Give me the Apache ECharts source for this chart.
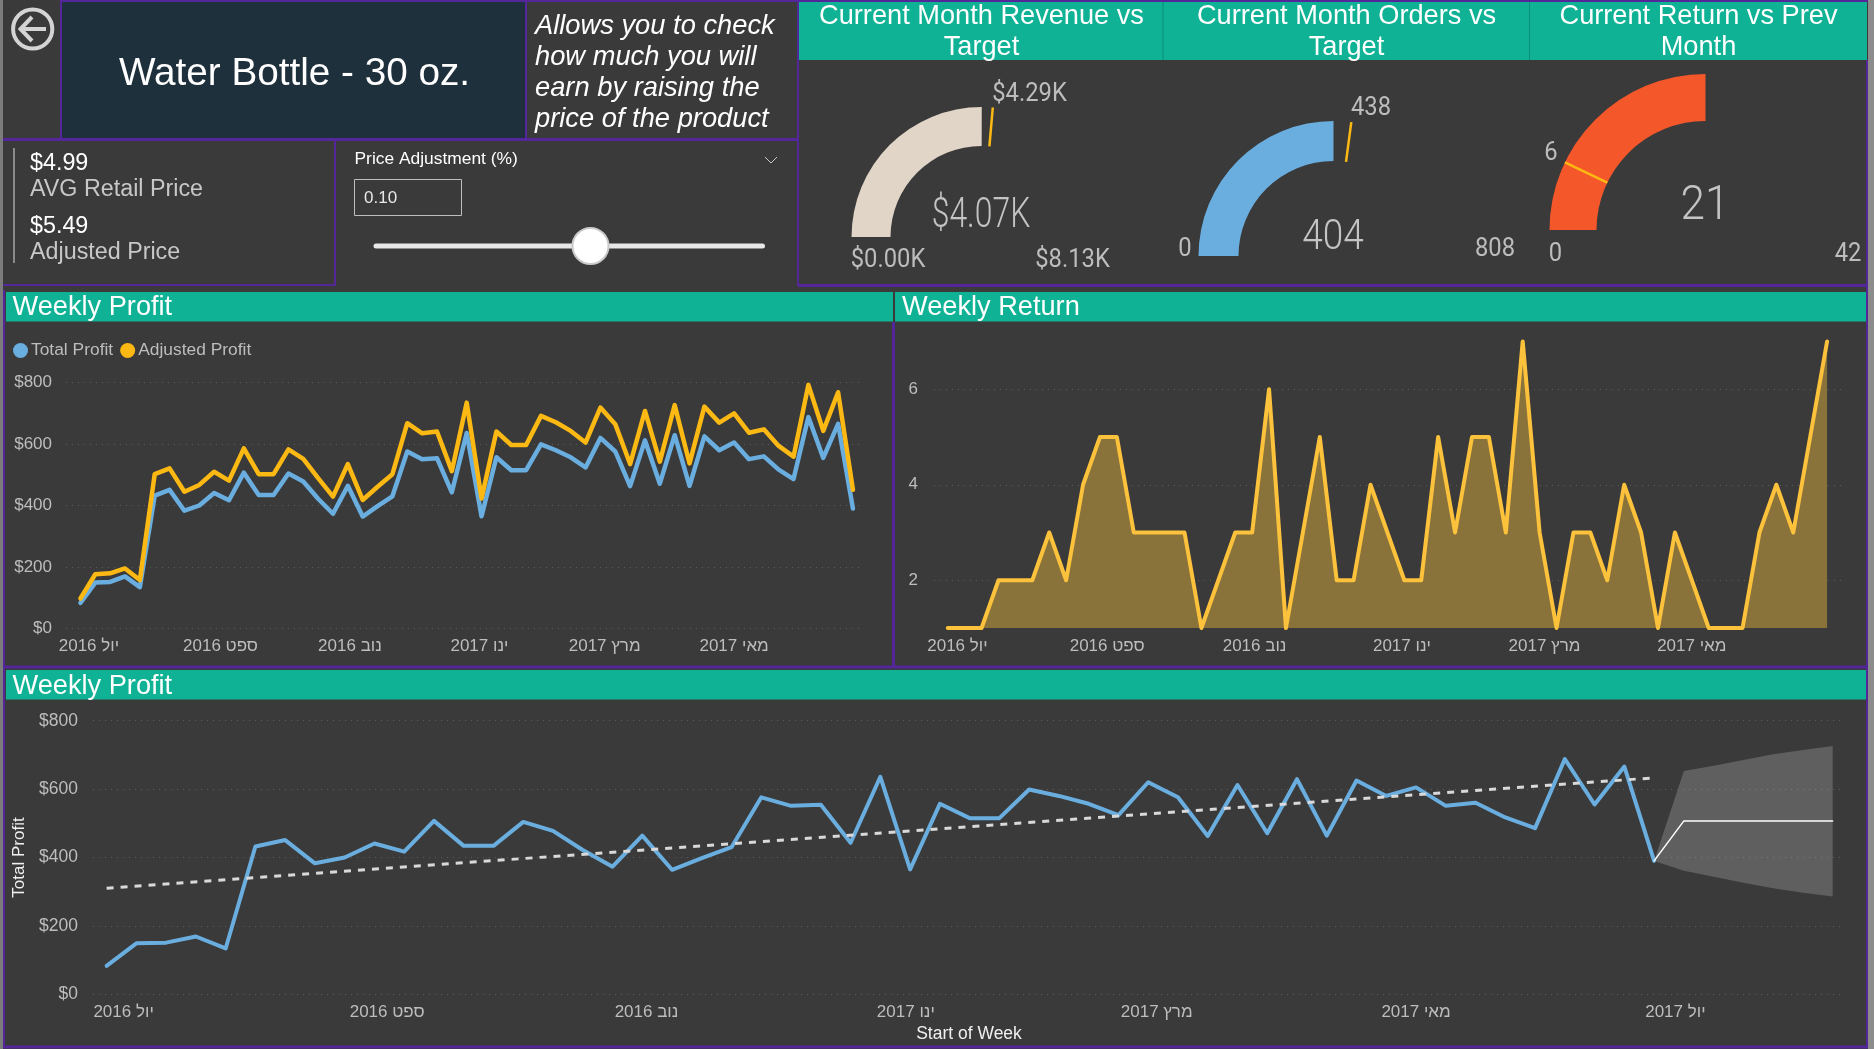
<!DOCTYPE html>
<html>
<head>
<meta charset="utf-8">
<title>Water Bottle - 30 oz.</title>
<style>html,body{margin:0;padding:0;background:#3a3a3a;overflow:hidden}#main{width:1874px;height:1049px}</style>
<script src="https://cdn.jsdelivr.net/npm/echarts@6/dist/echarts.min.js"></script>
</head>
<body>
<div id="main"></div>
<script>
// ---------- data ----------
const weekStarts = ['2016-06-27','2016-07-04','2016-07-11','2016-07-18','2016-07-25','2016-08-01','2016-08-08','2016-08-15','2016-08-22','2016-08-29','2016-09-05','2016-09-12','2016-09-19','2016-09-26','2016-10-03','2016-10-10','2016-10-17','2016-10-24','2016-10-31','2016-11-07','2016-11-14','2016-11-21','2016-11-28','2016-12-05','2016-12-12','2016-12-19','2016-12-26','2017-01-02','2017-01-09','2017-01-16','2017-01-23','2017-01-30','2017-02-06','2017-02-13','2017-02-20','2017-02-27','2017-03-06','2017-03-13','2017-03-20','2017-03-27','2017-04-03','2017-04-10','2017-04-17','2017-04-24','2017-05-01','2017-05-08','2017-05-15','2017-05-22','2017-05-29','2017-06-05','2017-06-12','2017-06-19','2017-06-26'];
const totalProfit = [83,149,151,169,134,432,451,383,400,441,417,507,434,434,504,478,422,373,464,364,398,430,576,551,554,443,636,365,557,515,515,599,580,557,524,620,576,463,612,471,629,464,625,580,605,551,560,517,486,688,555,666,390];
const adjustedProfit = [97,176,179,195,157,502,521,445,467,510,481,586,502,502,583,552,489,429,535,418,461,502,668,635,641,512,735,423,641,597,597,692,671,643,605,719,665,535,708,543,727,537,722,670,700,637,648,594,559,793,643,769,451];
const weeklyReturn = [1,1,1,2,2,2,3,2,4,5,5,3,3,3,3,1,2,3,3,6,1,3,5,2,2,4,3,2,2,5,3,5,5,3,7,3,1,3,3,2,4,3,1,3,2,1,1,1,3,4,3,5,7];
const trendDates = ['2016-06-27','2017-06-26'];
const trendValues = [310,633];
const forecastDates = ['2017-06-26','2017-07-03','2017-07-10','2017-07-17','2017-07-24','2017-07-31','2017-08-07'];
const forecastValues = [390,507,507,507,507,507,507];
const forecastUpper = [390,653,668,685,702,714,726];
const forecastLower = [390,361,344,326,310,297,286];
const tickDates = ['2016-07-01','2016-09-01','2016-11-01','2017-01-01','2017-03-01','2017-05-01'];
const tickLabels = ['יול 2016','ספט 2016','נוב 2016','ינו 2017','מרץ 2017','מאי 2017'];
const tickDatesLong = tickDates.concat(['2017-07-01']);
const tickLabelsLong = tickLabels.concat(['יול 2017']);
const returnTicks = [2,4,6];
const revenueGauge = {value:4.07,target:4.29,max:8.13};
const ordersGauge = {value:404,target:438,max:808};
const returnGauge = {value:21,target:6,max:42};

// ---------- helpers ----------
const SANS = '"Liberation Sans", Arial, sans-serif';
const DIN = 'Roboto, sans-serif';
const PURPLE = '#53269a', TEAL = '#0fb294', BG = '#3a3a3a', TICK = '#bdbdbd', GOLD = '#fdb913', BLUE = '#6aaee0';
const ts = s => { const p = s.split('-').map(Number); return new Date(p[0], p[1]-1, p[2]).getTime(); };
const labelMap = {};
tickDatesLong.forEach((d,i) => labelMap[ts(d)] = tickLabelsLong[i]);
const pairs = (xs, ys) => xs.map((x,i) => [ts(x), ys[i]]);
const DAY = 86400000;

function rect(x,y,w,h,fill,extra){ return Object.assign({type:'rect',silent:true,shape:{x,y,width:w,height:h},style:{fill}},extra||{}); }
function txt(text,x,y,o){ o=o||{}; return {type:'text',silent:true,x,y,scaleX:o.sx||1,z:o.z||20,style:{text,fill:o.fill||'#fff',font:(o.style||'')+' '+(o.weight||'')+' '+(o.size||16)+'px '+(o.family||SANS),align:o.align||'left',verticalAlign:'middle'}}; }
const small = {size:25,family:DIN,fill:TICK,align:'center',sx:.95};

const graphics = [
  // page chrome
  rect(0,0,3,1049,'#7c7c7c'), rect(1868,0,6,1049,'#8c8c8c'),
  rect(61,1,464,137,'#1f303d'),
  rect(799,2,1068,58,TEAL), rect(1162.5,2,1,58,'#0b8f78'), rect(1529,2,1,58,'#0b8f78'),
  rect(6,292,887,29.5,TEAL), rect(895,292,973,29.5,TEAL), rect(6,670,1861,29.5,TEAL),
  // purple borders
  rect(60,0,1808,2,PURPLE), rect(60,0,2,139,PURPLE), rect(525,0,2,139,PURPLE),
  rect(3,138,795,3,PURPLE), rect(334,140,2,146,PURPLE), rect(797,0,2,286,PURPLE),
  rect(3,284,332,2,PURPLE), rect(798,284,1070,3,PURPLE),
  rect(3,290,2,758,PURPLE), rect(892,322,3,345,PURPLE), rect(1866,60,2,986,PURPLE),
  rect(3,665.5,1865,3,PURPLE), rect(3,1045.5,1865,3,PURPLE),
  // back button
  {type:'circle',silent:true,shape:{cx:32.7,cy:29,r:19.6},style:{fill:'none',stroke:'#d4d4d4',lineWidth:4}},
  {type:'polyline',silent:true,shape:{points:[[46,29],[21,29]]},style:{fill:'none',stroke:'#d4d4d4',lineWidth:4}},
  {type:'polyline',silent:true,shape:{points:[[32,17],[20.5,29],[32,41]]},style:{fill:'none',stroke:'#d4d4d4',lineWidth:4}},
  // title and note
  txt('Water Bottle - 30 oz.',294.5,74,{size:38.7,align:'center'}),
  txt('Allows you to check',535,26,{size:27.3,style:'italic'}),
  txt('how much you will',535,57,{size:27.3,style:'italic'}),
  txt('earn by raising the',535,88,{size:27.3,style:'italic'}),
  txt('price of the product',535,119,{size:27.3,style:'italic'}),
  // KPI card
  rect(13,148,2,115,'#8a8a8a'),
  txt('$4.99',30,164,{size:23.3}),
  txt('AVG Retail Price',30,190,{size:23.3,fill:'#c8c8c8'}),
  txt('$5.49',30,227,{size:23.3}),
  txt('Adjusted Price',30,253,{size:23.3,fill:'#c8c8c8'}),
  // slicer
  txt('Price Adjustment (%)',354.5,159.5,{size:17.4}),
  {type:'polyline',silent:true,shape:{points:[[765,157],[771,163],[777,157]]},style:{fill:'none',stroke:'#c8c8c8',lineWidth:1}},
  {type:'rect',silent:true,shape:{x:354.5,y:179.5,width:107,height:36},style:{fill:'none',stroke:'#bdbdbd',lineWidth:1}},
  txt('0.10',364,198,{size:17,fill:'#e8e8e8'}),
  rect(373.5,243.5,391.5,5,'#e8e8e8',{shape:{x:373.5,y:243.5,width:391.5,height:5,r:2.5}}),
  {type:'circle',silent:true,z:5,shape:{cx:590.5,cy:246,r:18},style:{fill:'#ffffff',stroke:'#c9c9c9',lineWidth:2}},
  // card headings
  txt('Current Month Revenue vs',981.5,17,{size:27.2,align:'center'}),
  txt('Target',981.5,48,{size:27.2,align:'center'}),
  txt('Current Month Orders vs',1346.5,17,{size:27.2,align:'center'}),
  txt('Target',1346.5,48,{size:27.2,align:'center'}),
  txt('Current Return vs Prev',1698.5,17,{size:27.2,align:'center'}),
  txt('Month',1698.5,48,{size:27.2,align:'center'}),
  txt('Weekly Profit',12.5,308,{size:27.2}),
  txt('Weekly Return',902,308,{size:27.2}),
  txt('Weekly Profit',12.5,686.5,{size:27.2}),
  // gauge labels
  txt('$4.07K',981,216.5,{size:42,family:DIN,weight:'300',fill:'#c4c4c4',align:'center',sx:.76}),
  txt('$0.00K',888,261,small),
  txt('$8.13K',1072.5,261,small),
  txt('$4.29K',1029.5,94.5,small),
  txt('404',1333,238,{size:43,family:DIN,weight:'300',fill:'#c4c4c4',align:'center',sx:.86}),
  txt('0',1185,250,small),
  txt('808',1495,250,small),
  txt('438',1371,109,small),
  txt('21',1705,206.5,{size:49,family:DIN,weight:'300',fill:'#c4c4c4',align:'center',sx:.9}),
  txt('6',1551,154,small),
  txt('0',1555.5,255,small),
  txt('42',1848,255,small)
];

function gaugeSeries(d, cx, cy, R, r, color){
  const base = {type:'gauge',center:[cx,cy],radius:R,startAngle:180,endAngle:0,min:0,max:d.max,silent:true,
    axisTick:{show:false},splitLine:{show:false},axisLabel:{show:false},title:{show:false},detail:{show:false},anchor:{show:false}};
  return [
    Object.assign({},base,{z:3,data:[{value:d.value}],pointer:{show:false},
      axisLine:{show:false},progress:{show:true,width:R-r,roundCap:false,itemStyle:{color}}}),
    Object.assign({},base,{z:4,data:[{value:d.target}],axisLine:{show:false},progress:{show:false},
      pointer:{show:true,icon:'rect',length:R-r,width:2.5,offsetCenter:[0,-r],itemStyle:{color:GOLD}}})
  ];
}

function xAxisFor(gridIndex, minT, maxT, dates, extra){
  return Object.assign({type:'value',gridIndex,min:minT,max:maxT,scale:true,
    axisLine:{show:false},axisTick:{show:false},splitLine:{show:false},
    axisLabel:{customValues:dates.map(ts),formatter:v=>labelMap[v]||'',color:TICK,fontFamily:SANS,fontSize:17,margin:10,hideOverlap:false,showMinLabel:true,showMaxLabel:true}},extra||{});
}
function yAxisFor(gridIndex, extra){
  return Object.assign({type:'value',gridIndex,min:0,max:800,interval:200,
    axisLine:{show:false},axisTick:{show:false},
    splitLine:{show:true,lineStyle:{color:'#5c5c5c',type:[1,5],width:1}},
    axisLabel:{formatter:v=>'$'+v,color:TICK,fontFamily:SANS,fontSize:17,margin:14,padding:[3.5,0,0,0]}},extra||{});
}
function line(name,xi,yi,data,color,width,extra){
  return Object.assign({type:'line',name,xAxisIndex:xi,yAxisIndex:yi,data,showSymbol:false,symbol:'none',silent:true,clip:false,
    lineStyle:{color,width,join:'round',cap:'round'},itemStyle:{color}},extra||{});
}
// forecast confidence band: one polygon through the upper and, reversed, the lower bound
const bandRows = forecastDates.map((d,i) => [ts(d), forecastLower[i], forecastUpper[i]]);
function renderBand(params, api){
  if (params.dataIndex !== 0) return null;
  const upper = bandRows.map(r => api.coord([r[0], r[2]]));
  const lower = bandRows.map(r => api.coord([r[0], r[1]])).reverse();
  return {type:'polygon',shape:{points:upper.concat(lower)},style:{fill:'rgba(255,255,255,0.19)'}};
}

const option = {
  animation:false,
  backgroundColor:BG,
  textStyle:{fontFamily:SANS},
  legend:{left:13,top:342,data:['Total Profit','Adjusted Profit'],icon:'circle',itemWidth:15,itemHeight:15,itemGap:7,selectedMode:false,padding:0,
    textStyle:{color:TICK,fontSize:17.4,fontFamily:SANS,padding:[0,0,0,-2]}},
  grid:[
    {left:66,top:382.7,width:798,height:245.6},
    {left:934,top:341.5,width:910,height:286.5},
    {left:93,top:720.7,width:1752,height:273.6}
  ],
  xAxis:[
    xAxisFor(0, ts('2016-06-27')-6.8*DAY, ts('2017-06-26')+5.2*DAY, tickDates),
    xAxisFor(1, ts('2016-06-27')-5.7*DAY, ts('2017-06-26')+7*DAY, tickDates),
    xAxisFor(2, ts('2016-06-27')-3.2*DAY, ts('2017-08-07')+2.9*DAY, tickDatesLong,
      {name:'Start of Week',nameLocation:'middle',nameGap:30.5,nameTextStyle:{color:'#f0f0f0',fontSize:17.5,fontFamily:SANS}})
  ],
  yAxis:[
    yAxisFor(0),
    yAxisFor(1,{min:1,max:7,interval:null,
      axisLabel:{customValues:returnTicks,formatter:v=>String(v),color:TICK,fontFamily:SANS,fontSize:17,margin:16,padding:[3,0,0,0]},
      axisTick:{show:false,customValues:returnTicks}}),
    yAxisFor(2,{name:'Total Profit',nameLocation:'middle',nameGap:63,nameTextStyle:{color:'#f0f0f0',fontSize:17,fontFamily:SANS},axisLabel:{formatter:v=>'$'+v,color:TICK,fontFamily:SANS,fontSize:17.5,margin:15,padding:[3,0,0,0]}})
  ],
  series:[
    line('Total Profit',0,0,pairs(weekStarts,totalProfit),BLUE,4.5,{z:3}),
    line('Adjusted Profit',0,0,pairs(weekStarts,adjustedProfit),GOLD,4.5,{z:4}),
    line('Weekly Return',1,1,pairs(weekStarts,weeklyReturn),'#fcc23c',4,{z:3,areaStyle:{color:'#8a733b',opacity:1}}),
    {type:'custom',name:'Forecast Band',xAxisIndex:2,yAxisIndex:2,data:bandRows,encode:{x:0,y:[1,2]},renderItem:renderBand,silent:true,clip:false,z:1},
    line('Total Profit',2,2,pairs(weekStarts,totalProfit),BLUE,4,{z:3}),
    line('Trend',2,2,pairs(trendDates,trendValues),'#d9d9d9',3,{z:4,lineStyle:{color:'#d9d9d9',width:3,type:[7,7]}}),
    line('Forecast',2,2,pairs(forecastDates,forecastValues),'#ffffff',1.5,{z:4})
  ].concat(
    gaugeSeries(revenueGauge,981.5,237,130,91,'#e0d5c7'),
    gaugeSeries(ordersGauge,1333.5,256,135,95,'#6aaee0'),
    gaugeSeries(returnGauge,1705.5,230,156,109,'#f4582a')
  ),
  graphic:{elements:graphics}
};
const chart = echarts.init(document.getElementById('main'),null,{renderer:'canvas'});
chart.setOption(option);
</script>
</body>
</html>
